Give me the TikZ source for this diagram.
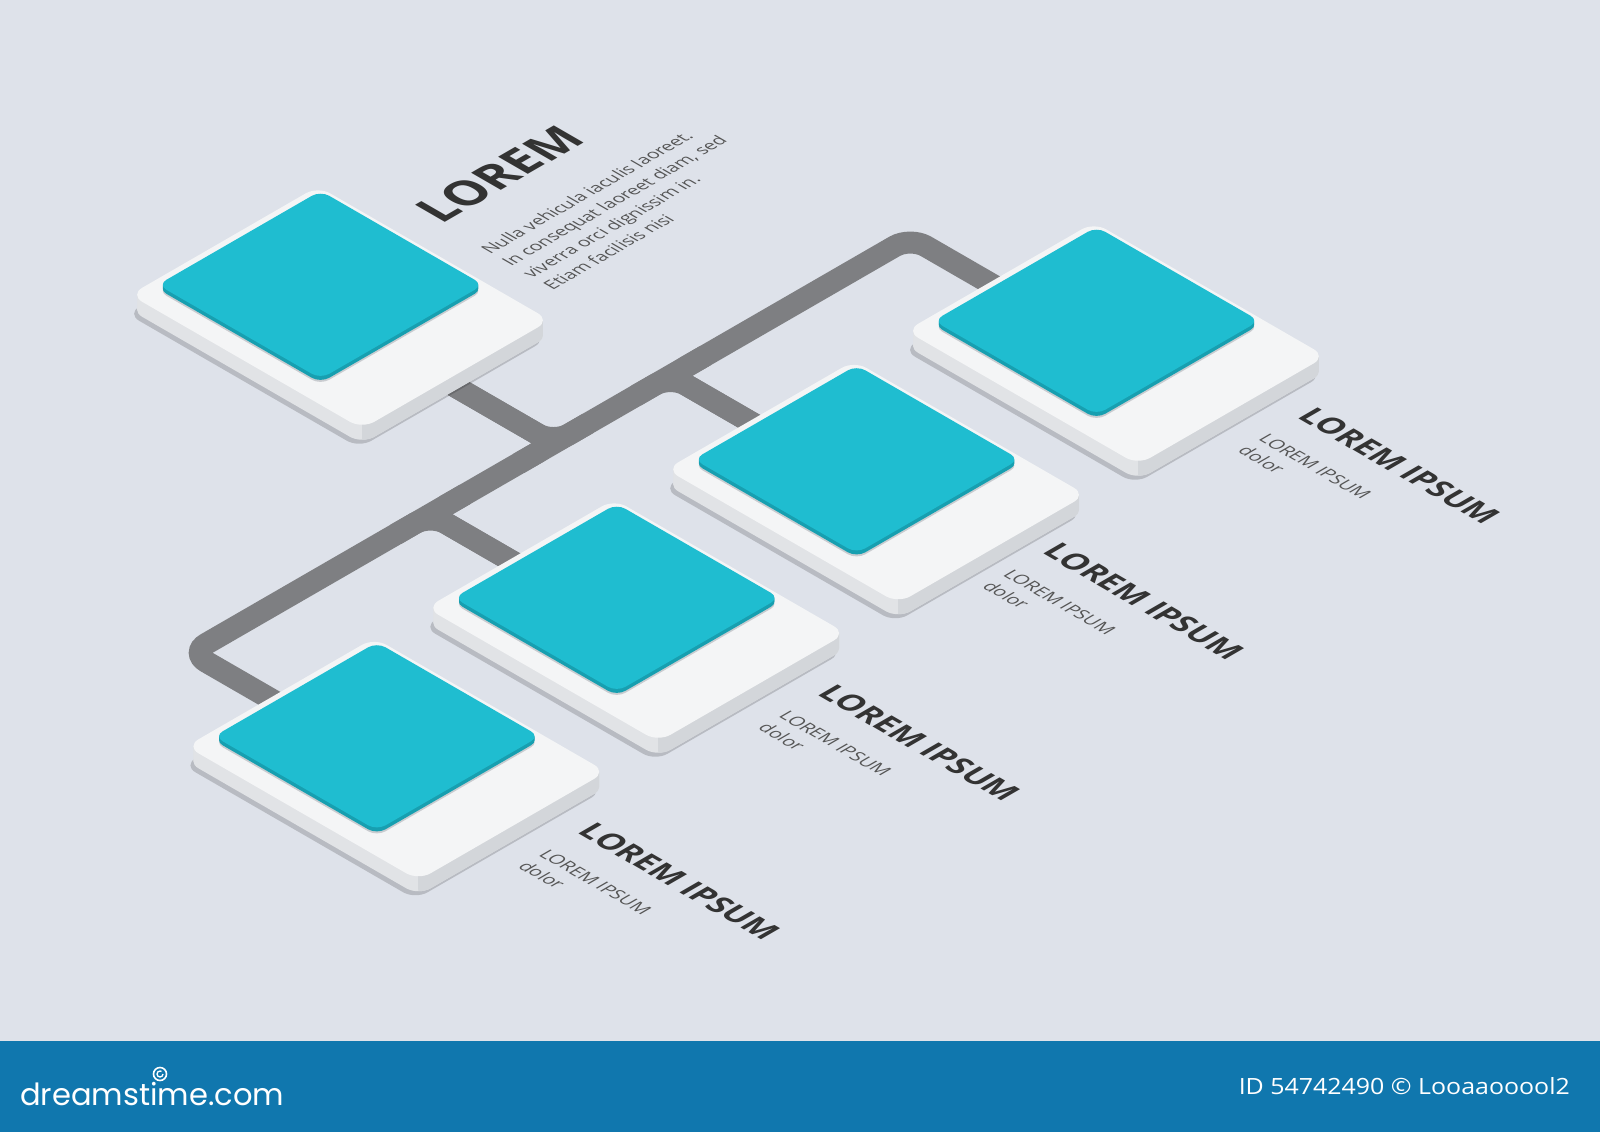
\documentclass[tikz,border=0pt]{standalone}
\usepackage{fontspec}
\setmainfont{Open Sans}
\newfontfamily\poppfont{Poppins}
\usepackage{graphicx}
\definecolor{bgc}{HTML}{DEE2EA}
\definecolor{connc}{HTML}{7E7F82}
\definecolor{slabtop}{HTML}{F4F5F6}
\definecolor{sideL}{HTML}{E1E3E6}
\definecolor{sideR}{HTML}{D3D6DA}
\definecolor{tealc}{HTML}{1FBDD0}
\definecolor{teald}{HTML}{179FB0}
\definecolor{ringc}{HTML}{C9CCD0}
\definecolor{txtd}{HTML}{333333}
\definecolor{txtl}{HTML}{555555}
\definecolor{barc}{HTML}{1077AE}
\tikzset{
 conn/.style={line width=22pt, draw=connc, rounded corners=18pt},
 isoA/.style={cm={0.866,0.5,-0.866,0.5,(0,0)}},
 isoB/.style={cm={0.866,-0.5,0.866,0.5,(0,0)}},
 lab/.style={transform shape, anchor=base west, inner sep=0pt, outer sep=0pt},
 bigtitle/.style={lab, text=txtd, font=\bfseries\fontsize{48}{48}\selectfont},
 para/.style={lab, text=txtl, font=\fontsize{17.5}{20}\selectfont},
 rowtitle/.style={lab, text=txtd, font=\bfseries\fontsize{31}{31}\selectfont},
 rowsub/.style={lab, text=txtl, font=\fontsize{18}{20}\selectfont},
}
\newcommand\slabshape{(-6,-3) -- (262,-3) -- (262,214) -- (-6,214) -- cycle}
\newcommand\tealshape{(0,0) -- (188,0) -- (188,188) -- (0,188) -- cycle}
\newcommand\tileat[3]{%
\begin{scope}[shift={(#2,#3)}]
 \coordinate (#1) at (0,0);
 \begin{scope}[shift={(-3pt,-19pt)}]
  \fill[black, opacity=0.17, rounded corners=14pt] \slabshape;
 \end{scope}
 \foreach \k in {1,...,15}{\begin{scope}[shift={(0pt,-\k pt)}]\fill[sideL, rounded corners=14pt] \slabshape;\end{scope}}
 \begin{scope}
  \clip (41.6pt,-400pt) rectangle (400pt,100pt);
  \foreach \k in {1,...,15}{\begin{scope}[shift={(0pt,-\k pt)}]\fill[sideR, rounded corners=14pt] \slabshape;\end{scope}}
 \end{scope}
 \fill[slabtop, rounded corners=14pt] \slabshape;
 \begin{scope}[shift={(0pt,-6pt)}]\fill[ringc, rounded corners=10pt] \tealshape;\end{scope}
 \foreach \k in {1,...,4}{\begin{scope}[shift={(0pt,-\k pt)}]\fill[teald, rounded corners=10pt] \tealshape;\end{scope}}
 \fill[tealc, rounded corners=10pt] \tealshape;
\end{scope}}
\newcommand\rowlabel[3]{%
 \begin{scope}[shift={(#2+306,#3+75)}, isoB] \node[rowtitle] (#1t) at (0,0) {LOREM IPSUM}; \end{scope}
 \begin{scope}[shift={(#2+306,#3+120)}, isoB] \node[rowsub] (#1s) at (0,0) {LOREM IPSUM}; \end{scope}
 \begin{scope}[shift={(#2+306,#3+144)}, isoB] \node[rowsub] (#1d) at (0,0) {dolor}; \end{scope}
}
\begin{document}
\begin{tikzpicture}[x=1pt,y=-1pt]
\fill[bgc] (0,0) rectangle (1600,1132);
\useasboundingbox (0,0) rectangle (1600,1132);
\begin{scope}[shift={(856.6,365.3)}, x={(0.866pt,-0.5pt)}, y={(-0.866pt,-0.5pt)}]
 \coordinate (jTop) at (-97,-159);
 \coordinate (jBot) at (-97,672);
 \coordinate (endB) at (20,-159);
 \coordinate (endE) at (20,672);
 \coordinate (jA) at (-97,253);  \coordinate (endA) at (-270,253);
 \coordinate (jC) at (-97,118);  \coordinate (endC) at (20,118);
 \coordinate (jD) at (-97,395);  \coordinate (endD) at (20,395);
 \coordinate (a1) at (-97,213); \coordinate (a2) at (-97,293);
 \coordinate (c1) at (-97,78);  \coordinate (c2) at (-97,158);
 \coordinate (d1) at (-97,355); \coordinate (d2) at (-97,435);
 \draw[conn] (endB) -- (jTop) -- (jBot) -- (endE);
 \draw[conn] (endA) -- (jA) -- (a1);
 \draw[conn] (endA) -- (jA) -- (a2);
 \draw[conn] (endC) -- (jC) -- (c1);
 \draw[conn] (endC) -- (jC) -- (c2);
 \draw[conn] (endD) -- (jD) -- (d1);
 \draw[conn] (endD) -- (jD) -- (d2);
 \tileat{tileA}{-484}{135}
 \tileat{tileB}{0}{-277}
 \tileat{tileC}{0}{0}
 \tileat{tileD}{0}{277}
 \tileat{tileE}{0}{554}
 \begin{scope}[shift={(-380,99)}, isoA] \node[bigtitle] (titleA) at (0,0) {LOREM}; \end{scope}
 \begin{scope}[shift={(-322,101)}, isoA] \node[para] (p1) at (0,0) {Nulla vehicula iaculis laoreet.}; \end{scope}
 \begin{scope}[shift={(-298,101)}, isoA] \node[para] (p2) at (0,0) {In consequat laoreet diam, sed}; \end{scope}
 \begin{scope}[shift={(-274,101)}, isoA] \node[para] (p3) at (0,0) {viverra orci dignissim in.}; \end{scope}
 \begin{scope}[shift={(-250,101)}, isoA] \node[para] (p4) at (0,0) {Etiam facilisis nisi}; \end{scope}
 \rowlabel{labB}{0}{-277}
 \rowlabel{labC}{-12}{6}
 \rowlabel{labD}{0}{277}
 \rowlabel{labE}{0}{554}
\end{scope}
\fill[barc] (0,1041) rectangle (1600,1132);
\node[anchor=base west, inner sep=0pt, text=white] (logo) at (20,1105) {\resizebox{264pt}{!}{\poppfont dreamstime.com}};
\draw[white, line width=1.6pt] (160,1074) circle[radius=6.5];
\draw[white, line width=1.3pt] (163,1074) arc[start angle=0, end angle=300, radius=3];
\node[anchor=base east, inner sep=0pt, text=white] (idtxt) at (1570,1094) {\resizebox{331pt}{17pt}{ID 54742490 © Looaaooool2}};
\end{tikzpicture}
\end{document}
